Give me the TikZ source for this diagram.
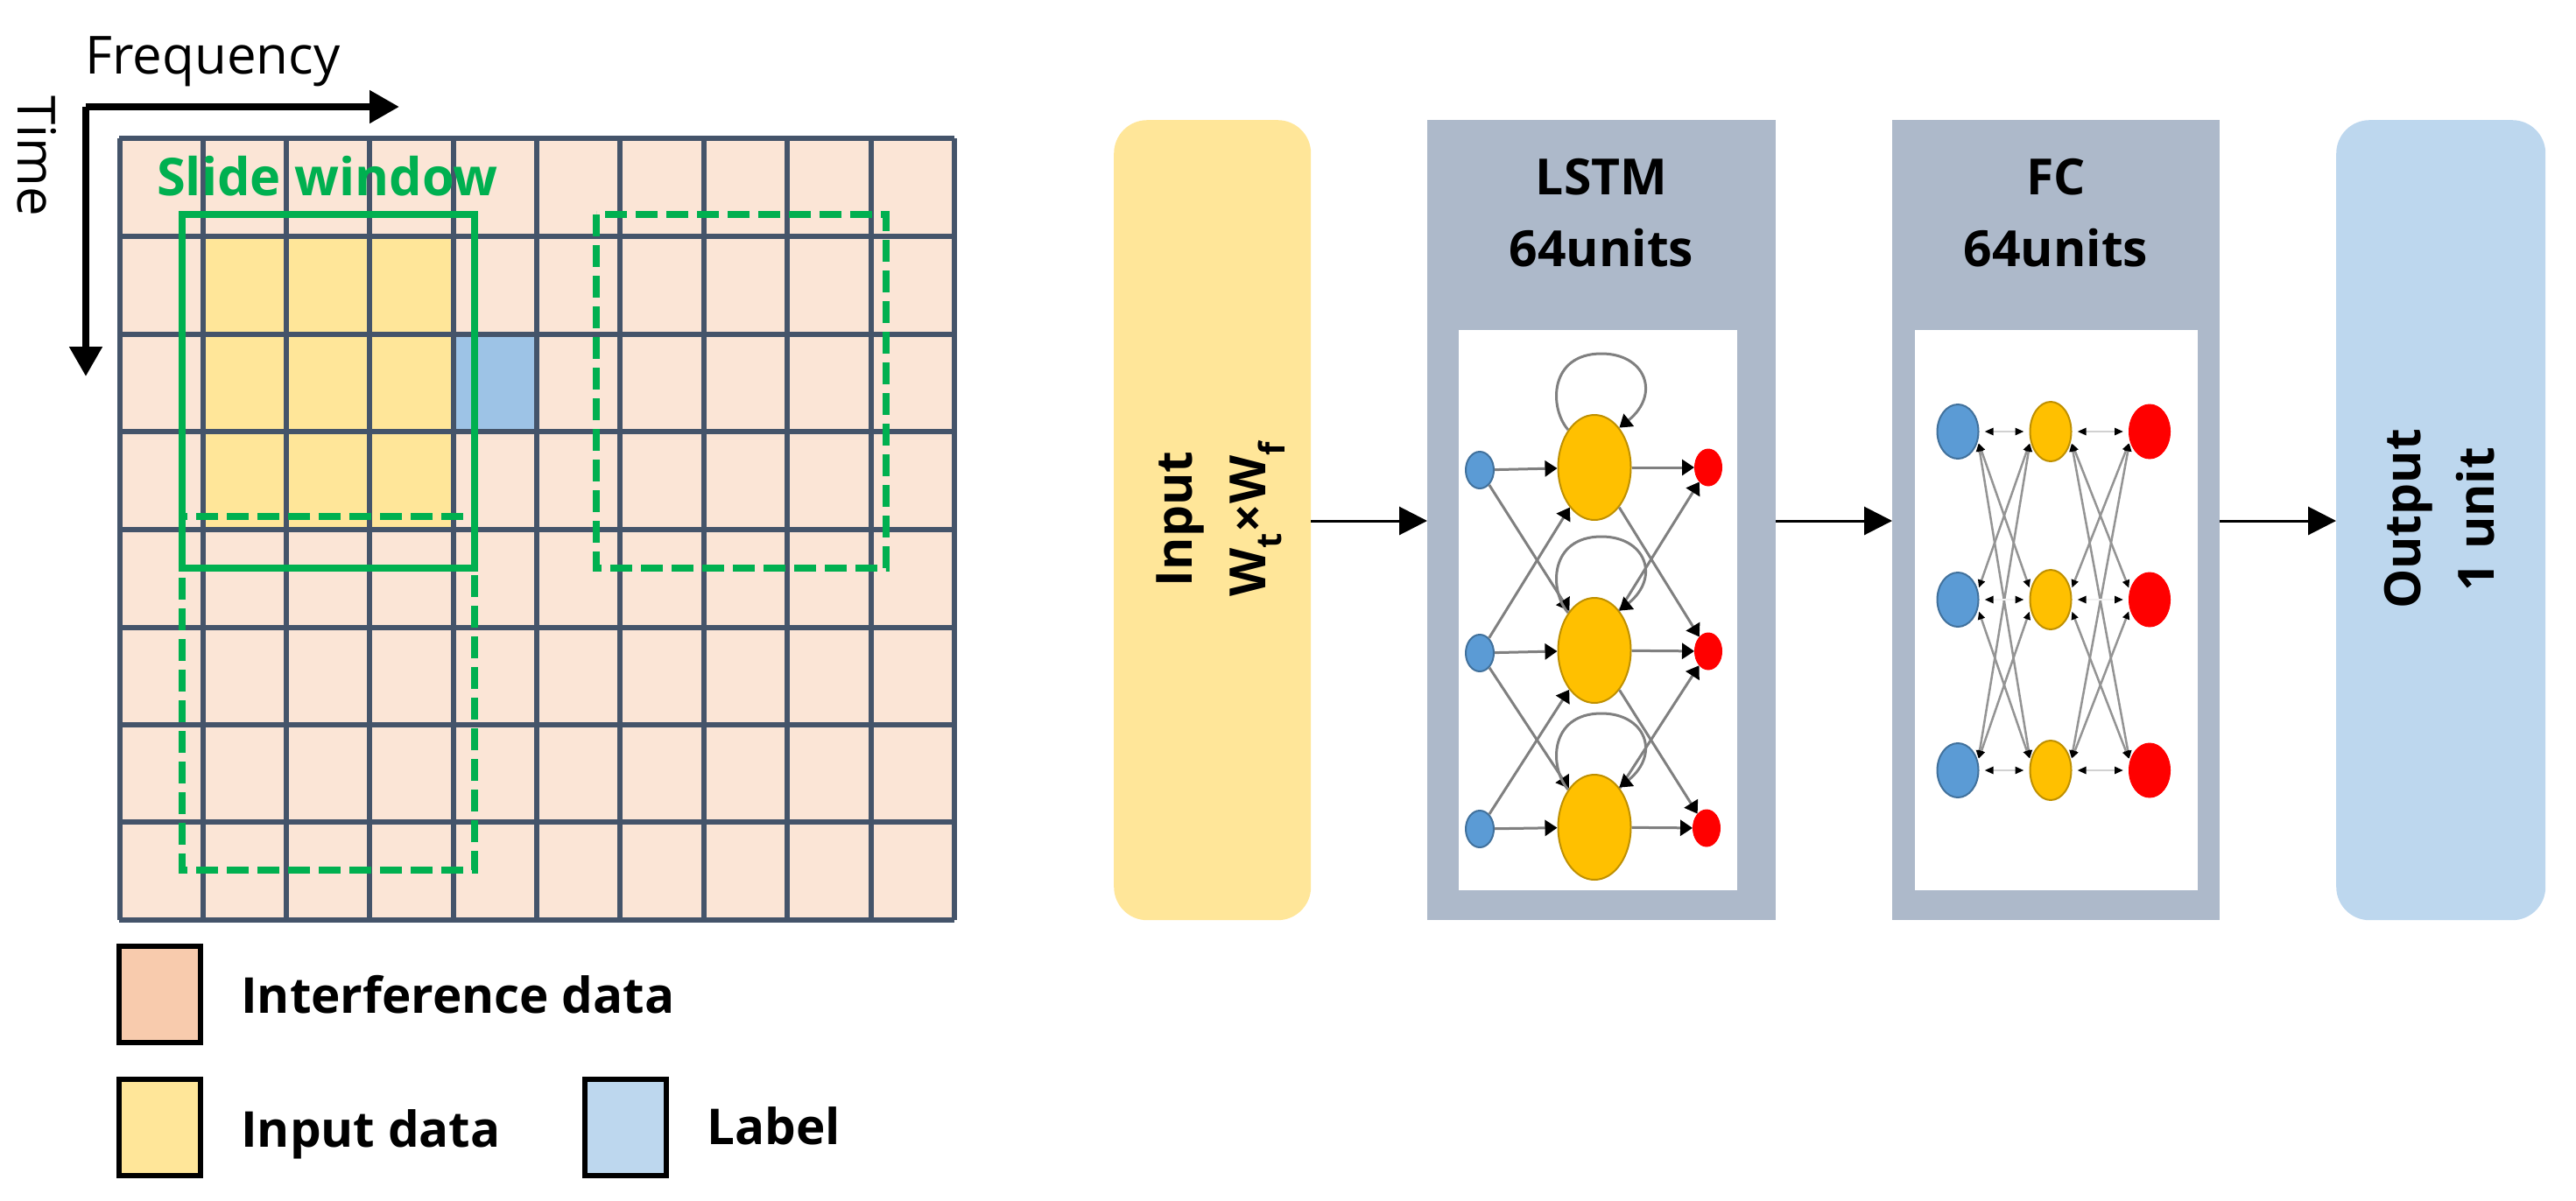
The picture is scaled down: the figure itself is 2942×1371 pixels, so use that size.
\documentclass[tikz,border=0pt]{standalone}
\usepackage{fontspec}
\setmainfont{Open Sans}
\usetikzlibrary{arrows.meta,shapes.geometric}
\definecolor{gridline}{HTML}{44546A}
\definecolor{cellbg}{HTML}{FBE5D6}
\definecolor{inyellow}{HTML}{FFE699}
\definecolor{cellblue}{HTML}{9DC3E6}
\definecolor{swatch}{HTML}{F8CBAD}
\definecolor{lblue}{HTML}{BDD7EE}
\definecolor{wgreen}{HTML}{00B050}
\definecolor{slate}{HTML}{ADB9CA}
\definecolor{nblue}{HTML}{5B9BD5}
\definecolor{nblueb}{HTML}{41719C}
\definecolor{nyel}{HTML}{FFC000}
\definecolor{nyelb}{HTML}{BF9000}
\tikzset{
  x=1pt,y=-1pt,
  gridstroke/.style={draw=gridline,line width=6pt},
  win/.style={draw=wgreen,line width=8pt},
  windash/.style={draw=wgreen,line width=8pt,dash pattern=on 25pt off 10pt},
  axis/.style={draw=black,line width=8pt,-{Triangle[length=34pt,width=36pt]}},
  flow/.style={draw=black,line width=3pt,-{Triangle[length=32pt,width=32pt]}},
  swatchbox/.style={draw=black,line width=6pt,rectangle,inner sep=0pt,minimum width=93pt,minimum height=110pt},
  leg/.style={font=\fontsize{56.5}{56.5}\selectfont\bfseries,anchor=west,inner sep=0pt},
  plain/.style={font=\fontsize{60}{60}\selectfont,inner sep=0pt},
  head/.style={font=\fontsize{57}{82}\selectfont\bfseries,align=center,inner sep=0pt},
  vhead/.style={font=\fontsize{57}{84}\selectfont\bfseries,align=center,inner sep=0pt,rotate=90},
  pill/.style={rectangle,rounded corners=38pt,inner sep=0pt,anchor=north west},
  panel/.style={rectangle,fill=slate,inner sep=0pt,anchor=north west},
  inset/.style={rectangle,fill=white,inner sep=0pt,anchor=north west},
  lb/.style={ellipse,fill=nblue,draw=nblueb,line width=2pt,inner sep=0pt,minimum width=32pt,minimum height=42pt},
  ly/.style={ellipse,fill=nyel,draw=nyelb,line width=2pt,inner sep=0pt,minimum width=83pt,minimum height=120pt},
  lr/.style={ellipse,fill=red,draw=red,line width=1pt,inner sep=0pt,minimum width=31pt,minimum height=42pt},
  fb/.style={ellipse,fill=nblue,draw=nblueb,line width=2pt,inner sep=0pt,minimum width=47pt,minimum height=62pt},
  fy/.style={ellipse,fill=nyel,draw=nyelb,line width=2pt,inner sep=0pt,minimum width=47pt,minimum height=68pt},
  fr/.style={ellipse,fill=red,draw=red,line width=1pt,inner sep=0pt,minimum width=47pt,minimum height=62pt},
  ledge/.style={draw=black!50,line width=3pt,-{Triangle[length=14pt,width=18pt,color=black]}},
  fedge/.style={draw=black!42,line width=2.5pt,shorten <=3pt,shorten >=3pt,{Triangle[length=9pt,width=8pt,color=black]}-{Triangle[length=9pt,width=8pt,color=black]}},
  fflat/.style={draw=black!18,line width=2.5pt,shorten <=6pt,shorten >=6pt,{Triangle[length=10pt,width=8pt,color=black]}-{Triangle[length=10pt,width=8pt,color=black]}},
  fflatm/.style={fflat,draw=black!5},
}
\begin{document}
\begin{tikzpicture}
\useasboundingbox (0,0) rectangle (2942,1371);
% grid
\fill[cellbg] (136,158) rectangle (1090,1051);
\fill[inyellow] (232,270) rectangle (518,605);
\fill[cellblue] (518,382) rectangle (613,493);
\foreach \vx in {137,232,327,422.2,517.6,613,708.4,803.8,899.2,994.6,1090}
  \draw[gridstroke] (\vx,158) -- (\vx,1051);
\foreach \hy in {158,270,382,493,605,717,828,939.4,1051}
  \draw[gridstroke] (136,\hy) -- (1090,\hy);
% windows
\draw[windash] (208,590) rectangle (542,994);
\draw[windash] (681,245) rectangle (1012,649);
\draw[win] (208,245) rectangle (542,649);
\node[font=\fontsize{59.5}{59.5}\selectfont\bfseries,text=wgreen,inner sep=0pt] (slide) at (374,201) {Slide window};
% axes
\coordinate (origin) at (98,122);
\coordinate (fend) at (456,122);
\coordinate (tend) at (98,430);
\draw[axis] (origin) -- (fend);
\draw[axis] (origin) -- (tend);
\node[plain] (freq) at (243,70) {Frequency};
\node[plain,font=\fontsize{60}{60}\selectfont,rotate=-90] (time) at (42,178) {Time};
% legend
\node[swatchbox,fill=swatch] (s1) at (182,1136) {};
\node[swatchbox,fill=inyellow] (s2) at (182,1288) {};
\node[swatchbox,fill=lblue] (s3) at (714.5,1288) {};
\node[leg] (l1) at (275,1136) {Interference data};
\node[leg] (l2) at (275,1296) {Input data};
\node[leg] (l3) at (807,1286) {Label};
% blocks
\node[pill,fill=inyellow,minimum width=225pt,minimum height=914pt] (inp) at (1272,137) {};
\node[panel,minimum width=398pt,minimum height=914pt] (lstm) at (1630,137) {};
\node[panel,minimum width=374pt,minimum height=914pt] (fc) at (2161,137) {};
\node[pill,fill=lblue,minimum width=239pt,minimum height=914pt] (out) at (2668,137) {};
\node[inset,minimum width=318pt,minimum height=640pt] (lin) at (1666,377) {};
\node[inset,minimum width=323pt,minimum height=640pt] (fin) at (2187,377) {};
\node[head] (lstmt) at (1829,243) {LSTM\\64units};
\node[head] (fct) at (2348,243) {FC\\64units};
\node[vhead] (inpt) at (1394,593) {Input\\W\textsubscript{t}×W\textsubscript{f}};
\node[vhead] (outt) at (2786,593) {Output\\1 unit};
\coordinate (a1) at (1497,595);
\coordinate (a2) at (1630,595);
\coordinate (a3) at (2028,595);
\coordinate (a4) at (2161,595);
\coordinate (a5) at (2535,595);
\coordinate (a6) at (2668,595);
\draw[flow] (a1) -- (a2);
\draw[flow] (a3) -- (a4);
\draw[flow] (a5) -- (a6);
% LSTM net
\foreach \n/\yy in {1/537,2/746,3/947} \node[lb] (lb\n) at (1690,\yy) {};
\foreach \n/\yy in {1/534,2/743,3/945} \node[ly] (ly\n) at (1821,\yy) {};
\foreach \n/\xx/\yy in {1/1951/534,2/1951/744,3/1949/946} \node[lr] (lr\n) at (\xx,\yy) {};
\foreach \a/\b in {1/1,1/2,2/1,2/2,2/3,3/2,3/3} {
  \draw[ledge] (lb\a) -- (ly\b);
  \draw[ledge] (ly\a) -- (lr\b);
}
\foreach \n in {1,2,3} {
  \begin{scope}[shift={(ly\n.center)}]
  \coordinate (lt\n) at (8,-130);
  \draw[ledge] (ly\n.125) .. controls (-52,-68) and (-52,-130) .. (lt\n)
     .. controls (58,-130) and (76,-84) .. (ly\n.58);
  \end{scope}
}
% FC net
\foreach \n/\yy in {1/493,2/685,3/880} {
  \node[fb] (fb\n) at (2236,\yy) {};
  \node[fy] (fy\n) at (2342,\yy) {};
  \node[fr] (fr\n) at (2455,\yy) {};
}
\foreach \a/\b/\sa/\sb in {1/2/-25/155,1/3/-25/155,2/3/-25/155,2/1/25/-155,3/1/25/-155,3/2/25/-155} {
  \draw[fedge] (fb\a.\sa) -- (fy\b.\sb);
  \draw[fedge] (fy\a.\sa) -- (fr\b.\sb);
}
\draw[fflat] (fb1) -- (fy1); \draw[fflat] (fy1) -- (fr1);
\draw[fflatm] (fb2) -- (fy2); \draw[fflatm] (fy2) -- (fr2);
\draw[fflat] (fb3) -- (fy3); \draw[fflat] (fy3) -- (fr3);
\end{tikzpicture}
\end{document}
